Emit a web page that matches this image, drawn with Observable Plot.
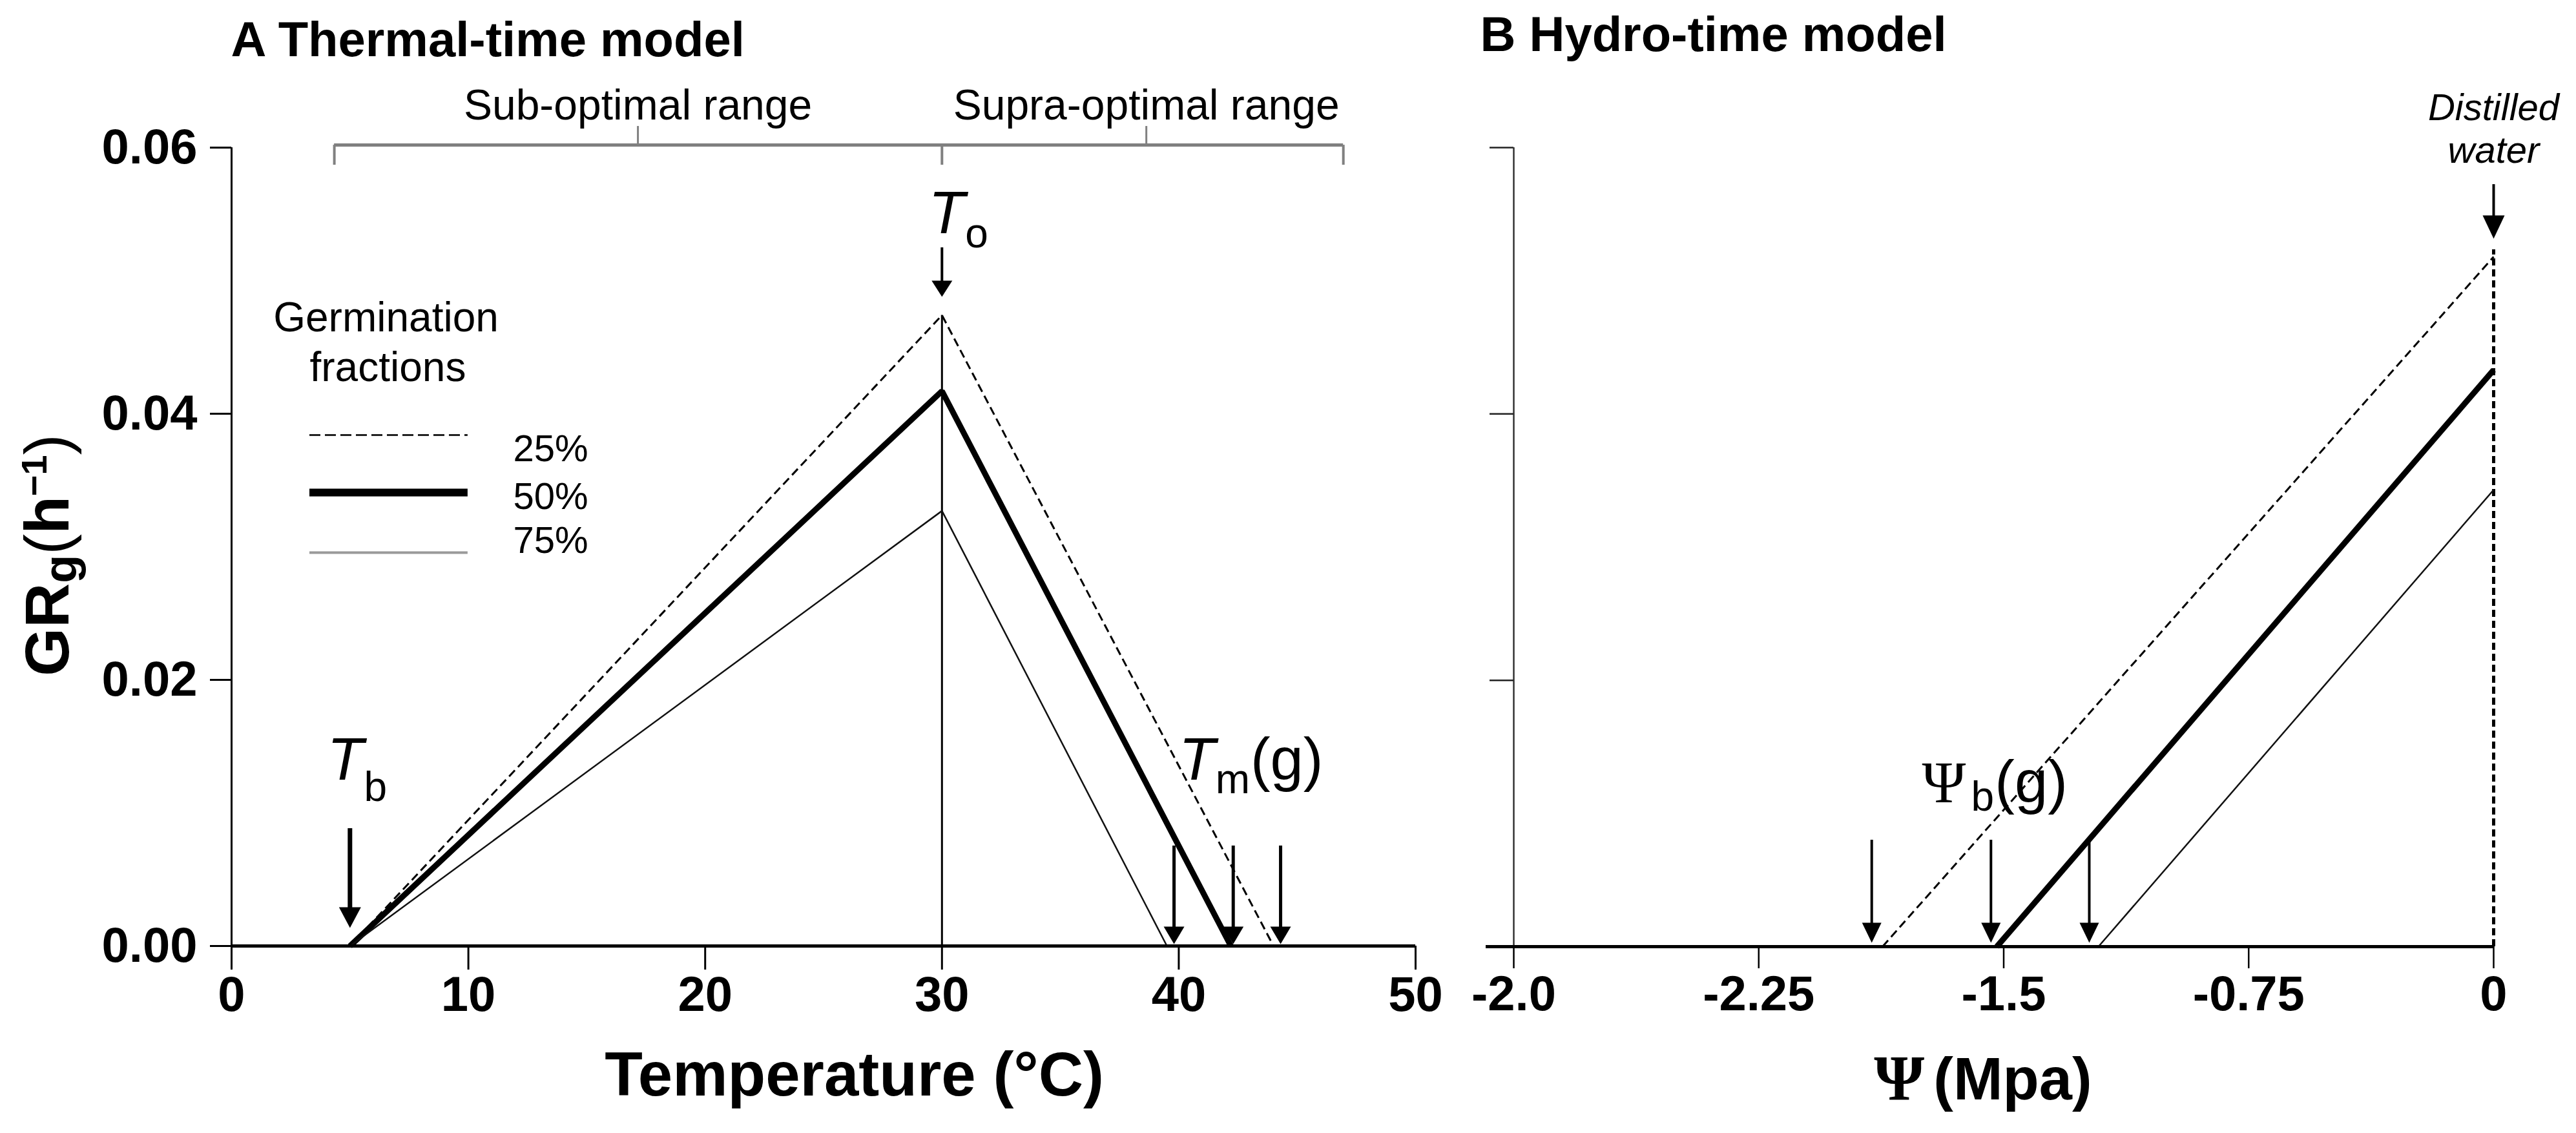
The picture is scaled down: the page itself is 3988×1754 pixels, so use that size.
<!DOCTYPE html>
<html>
<head>
<meta charset="utf-8">
<script src="https://cdn.jsdelivr.net/npm/d3@7"></script>
<script src="https://cdn.jsdelivr.net/npm/@observablehq/plot@0.6"></script>
<style>
  body { margin: 0; background: #fff; }
  #fig { display: flex; width: 3988px; height: 1754px; background: #fff; }
</style>
</head>
<body>
<div id="fig"></div>
<script>
// ================= DATA =================
// Germination fractions (series)
const fractions = ["25%", "50%", "75%"];

// Panel A: thermal-time model (Temperature °C -> GRg h^-1)
const tempKnots = [[5, 30, 44.0], [5, 30, 42.2], [5, 30, 39.5]];
const grKnotsA  = [[0, 0.0474, 0], [0, 0.0417, 0], [0, 0.0327, 0]];
const tempTicks = [0, 10, 20, 30, 40, 50];
const grTicks   = [0, 0.02, 0.04, 0.06];
const optimumT  = 30;
const baseT     = [5.0];
const maxT      = [39.8, 42.3, 44.3];
const rangeLabels   = ["Sub-optimal range", "Supra-optimal range"];
const bracketEdgesT = [4.34, 30, 46.95];
const bracketMidsT  = [17.16, 38.63];
const legendTitle   = ["Germination", "fractions"];
const legendTitleGR = [0.04617, 0.04243];
const legendLineGR  = [0.0384, 0.03408, 0.02956];
const legendTextGR  = [0.03641, 0.03282, 0.02956];

// Panel B: hydro-time model (Ψ MPa -> GRg h^-1)
const psiKnots = [[-1.871, 0], [-1.521, 0], [-1.210, 0]];
const grKnotsB = [[0, 0.0518], [0, 0.0433], [0, 0.0343]];
const psiTicks = [-3, -2.25, -1.5, -0.75, 0];
const psiTickLabels = ["-2.0", "-2.25", "-1.5", "-0.75", "0"];
const basePsi = [-1.904, -1.539, -1.238];
const waterLabel = ["Distilled", "water"];
const waterLabelGR = [0.06208, 0.05884];

// ================= STYLES =================
const FONT = "'Liberation Sans', Arial, Helvetica, sans-serif";
const SERIF = "'Liberation Serif', 'Times New Roman', serif";
const seriesStyle = {
  "25%": {stroke: "black", strokeWidth: 3, strokeDasharray: "13,7", strokeLinecap: "butt"},
  "50%": {stroke: "black", strokeWidth: 9, strokeLinejoin: "miter", strokeLinecap: "butt"},
  "75%": {stroke: "#111", strokeWidth: 2.5, strokeLinecap: "butt"}
};
const legendStyle = {
  "25%": {stroke: "#222", strokeWidth: 3, strokeDasharray: "17,7"},
  "50%": {stroke: "black", strokeWidth: 12},
  "75%": {stroke: "#9a9a9a", strokeWidth: 4}
};

const rowsA = fractions.flatMap((f, i) => tempKnots[i].map((t, j) => ({fraction: f, t, gr: grKnotsA[i][j]})));
const rowsB = fractions.flatMap((f, i) => psiKnots[i].map((p, j) => ({fraction: f, psi: p, gr: grKnotsB[i][j]})));

// filled down-pointing arrow head, tip at the point
const tri = (h, l) => ({draw(ctx) { ctx.moveTo(0, 0); ctx.lineTo(-h, -l); ctx.lineTo(h, -l); ctx.closePath(); }});
function arrows(xs, yTop, yTip, {half = 16, len = 28, width = 5} = {}) {
  return [
    Plot.ruleX(xs, {x: d => d, y1: yTop, y2: yTip, stroke: "black", strokeWidth: width, insetBottom: len - 4}),
    Plot.dot(xs, {x: d => d, y: yTip, symbol: tri(half, len), fill: "black", stroke: "none"})
  ];
}
const txt = (s, o) => Plot.text([s], {text: d => d, lineAnchor: "bottom", fontWeight: "normal", ...o});

const svgStyle = {fontFamily: FONT, fontSize: "76px", fontWeight: "bold", background: "white", color: "black", overflow: "visible"};

// ================= PANEL A =================
const plotA = Plot.plot({
  width: 2240, height: 1754,
  marginLeft: 358, marginRight: 49, marginTop: 228, marginBottom: 290,
  x: {domain: [0, 50]},
  y: {domain: [0, 0.06]},
  style: svgStyle,
  marks: [
    // bracket
    Plot.ruleY([0.06019], {x1: bracketEdgesT[0], x2: bracketEdgesT[2], stroke: "#808080", strokeWidth: 5}),
    Plot.ruleX(bracketEdgesT, {x: d => d, y1: 0.06019, y2: 0.05869, stroke: "#808080", strokeWidth: 4}),
    Plot.ruleX(bracketMidsT, {x: d => d, y1: 0.0616, y2: 0.06019, stroke: "#808080", strokeWidth: 3}),
    Plot.text(rangeLabels, {x: (d, i) => bracketMidsT[i], y: 0.06209, text: d => d, lineAnchor: "bottom", fontSize: 66, fontWeight: "normal"}),
    // optimum vertical line
    Plot.ruleX([optimumT], {y1: 0, y2: grKnotsA[0][1], stroke: "black", strokeWidth: 3}),
    // series
    ...fractions.map(f => Plot.line(rowsA.filter(d => d.fraction === f), {x: "t", y: "gr", ...seriesStyle[f]})),
    // axes
    Plot.ruleY([0], {x1: 0, x2: 50, stroke: "black", strokeWidth: 5}),
    Plot.ruleX([0], {y1: 0, y2: 0.06, stroke: "black", strokeWidth: 3}),
    Plot.axisX({ticks: tempTicks, tickFormat: d3.format("d"), tickSize: 37, tickPadding: 10, strokeWidth: 3, fontSize: 76, fontWeight: "bold", label: null}),
    Plot.axisY({ticks: grTicks, tickFormat: d3.format(".2f"), tickSize: 33, tickPadding: 20, strokeWidth: 3, fontSize: 76, fontWeight: "bold", label: null}),
    // arrows
    ...arrows([optimumT], 0.05248, 0.04879, {half: 16, len: 25, width: 4}),
    ...arrows(baseT, 0.00883, 0.00136, {half: 17, len: 32, width: 7}),
    ...arrows(maxT, 0.00752, 0.00015, {half: 16, len: 27, width: 5}),
    // labels
    txt("T", {x: 29.43, y: 0.05359, textAnchor: "start", fontStyle: "italic", fontSize: 92}),
    txt("o", {x: 30.98, y: 0.05248, textAnchor: "start", fontSize: 64}),
    txt("T", {x: 4.04, y: 0.01248, textAnchor: "start", fontStyle: "italic", fontSize: 92}),
    txt("b", {x: 5.59, y: 0.01092, textAnchor: "start", fontSize: 64}),
    txt("T", {x: 40.0, y: 0.01248, textAnchor: "start", fontStyle: "italic", fontSize: 92}),
    txt("m", {x: 41.55, y: 0.0115, textAnchor: "start", fontSize: 64}),
    txt("(g)", {x: 43.03, y: 0.01248, textAnchor: "start", fontSize: 92}),
    // legend
    Plot.text(legendTitle, {x: (d, i) => [6.52, 6.6][i], y: (d, i) => legendTitleGR[i], text: d => d, lineAnchor: "bottom", fontSize: 64, fontWeight: "normal"}),
    ...fractions.map((f, i) => Plot.ruleY([legendLineGR[i]], {x1: 3.3, x2: 9.98, ...legendStyle[f]})),
    Plot.text(fractions, {x: 11.89, y: (d, i) => legendTextGR[i], text: d => d, textAnchor: "start", lineAnchor: "bottom", fontSize: 58, fontWeight: "normal"}),
    // titles
    Plot.text(["A Thermal-time model"], {frameAnchor: "top-left", dx: -1, dy: -142, text: d => d, textAnchor: "start", lineAnchor: "bottom", fontSize: 76, fontWeight: "bold"}),
    Plot.text(["Temperature (°C)"], {x: 26.3, y: -0.01126, text: d => d, lineAnchor: "bottom", fontSize: 96, fontWeight: "bold"}),
    Plot.text(["GRg(h-1)"], {x: -6.9, y: 0.02937, text: d => d, rotate: -90, textAnchor: "middle", lineAnchor: "bottom", fontSize: 96, fontWeight: "bold"})
  ]
});

// ================= PANEL B =================
const psiLabelMap = new Map(psiTicks.map((t, i) => [t, psiTickLabels[i]]));
const plotB = Plot.plot({
  width: 1748, height: 1754,
  marginLeft: 103, marginRight: 128, marginTop: 228, marginBottom: 289,
  x: {domain: [-3, 0]},
  y: {domain: [0, 0.06]},
  style: svgStyle,
  marks: [
    Plot.ruleX([0], {y1: 0, y2: 0.05234, stroke: "black", strokeWidth: 5, strokeDasharray: "11,6"}),
    ...fractions.map(f => Plot.line(rowsB.filter(d => d.fraction === f), {x: "psi", y: "gr", ...seriesStyle[f]})),
    Plot.ruleX([-3], {y1: 0, y2: 0.06, stroke: "#333", strokeWidth: 2.5}),
    Plot.ruleY([0], {x1: -3, x2: 0, stroke: "black", strokeWidth: 5}),
    Plot.axisY({ticks: [0], tickSize: 43, strokeWidth: 5, tickFormat: () => "", label: null}),
    Plot.axisY({ticks: grTicks.slice(1), tickSize: 37, strokeWidth: 2.5, stroke: "#222", tickFormat: () => "", label: null}),
    Plot.axisX({ticks: psiTicks, tickFormat: d => psiLabelMap.get(d), tickSize: 34, tickPadding: 11, strokeWidth: 2.5, fontSize: 76, fontWeight: "bold", label: null}),
    ...arrows(basePsi, 0.008, 0.00029, {half: 15, len: 31, width: 4}),
    ...arrows([0], 0.05723, 0.05316, {half: 17, len: 36, width: 4}),
    Plot.text(waterLabel, {x: 0, y: (d, i) => waterLabelGR[i], text: d => d, lineAnchor: "bottom", fontSize: 58, fontStyle: "italic", fontWeight: "normal"}),
    txt("Ψ", {x: -1.75, y: 0.01082, textAnchor: "start", fontSize: 92, fontFamily: SERIF}),
    txt("b", {x: -1.6, y: 0.01023, textAnchor: "start", fontSize: 64}),
    txt("(g)", {x: -1.527, y: 0.01082, textAnchor: "start", fontSize: 92}),
    Plot.text(["B Hydro-time model"], {frameAnchor: "top-left", dx: -52, dy: -150, text: d => d, textAnchor: "start", lineAnchor: "bottom", fontSize: 76, fontWeight: "bold"}),
    txt("Ψ", {x: -1.897, y: -0.01145, textAnchor: "start", fontSize: 100, fontWeight: "bold", fontFamily: SERIF}),
    txt("(Mpa)", {x: -1.715, y: -0.01145, textAnchor: "start", fontSize: 92, fontWeight: "bold"})
  ]
});

// rich text (sub/superscripts) for the y-axis title
function richText(svg, placeholder, parts) {
  const t = Array.from(svg.querySelectorAll("text")).find(e => e.textContent === placeholder);
  if (!t) return;
  while (t.firstChild) t.removeChild(t.firstChild);
  for (const p of parts) {
    const s = document.createElementNS("http://www.w3.org/2000/svg", "tspan");
    s.textContent = p.text;
    if (p.size) s.setAttribute("font-size", p.size);
    if (p.weight) s.setAttribute("font-weight", p.weight);
    if (p.dy) s.setAttribute("dy", p.dy);
    t.appendChild(s);
  }
}
richText(plotA, "GRg(h-1)", [
  {text: "GR", size: 96, weight: "bold"},
  {text: "g", size: 72, weight: "bold", dy: 12},
  {text: "(", size: 96, weight: "normal", dy: -12},
  {text: "h", size: 96, weight: "bold"},
  {text: "\u22121", size: 56, weight: "bold", dy: -34},
  {text: ")", size: 96, weight: "normal", dy: 34}
]);

const fig = document.getElementById("fig");
fig.appendChild(plotA);
fig.appendChild(plotB);
</script>
</body>
</html>
